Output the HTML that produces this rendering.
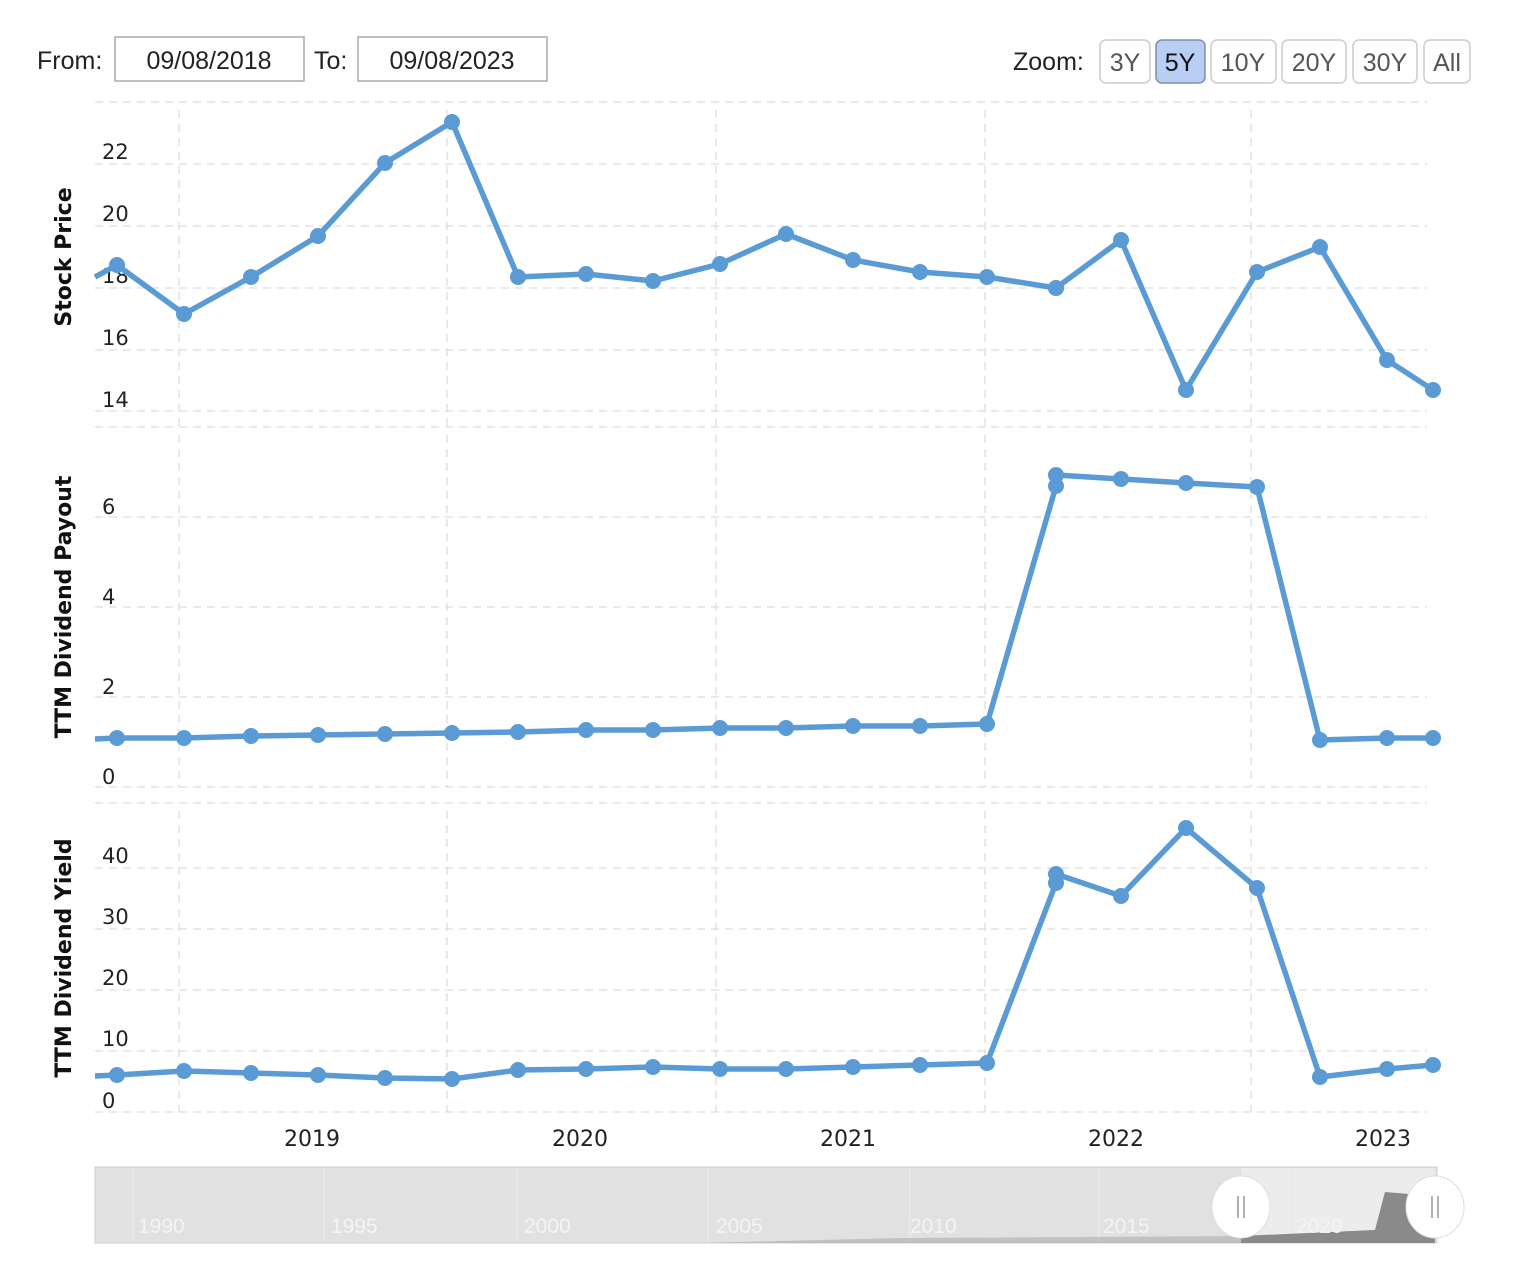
<!DOCTYPE html>
<html><head><meta charset="utf-8"><style>
html,body{margin:0;padding:0;background:#fff;width:1536px;height:1276px;overflow:hidden}
svg{display:block}
text{font-family:"DejaVu Sans","Liberation Sans",sans-serif}
text.ui{font-family:"Liberation Sans",sans-serif}
</style></head><body>
<svg id="s" width="1536" height="1276" xmlns="http://www.w3.org/2000/svg">
<text class="ui" x="37" y="69" font-size="25" fill="#222">From:</text>
<rect x="115" y="37" width="189" height="44" fill="#fff" stroke="#aaa" stroke-width="1.5"/>
<text class="ui" x="209" y="69" font-size="25" fill="#222" text-anchor="middle">09/08/2018</text>
<text class="ui" x="314" y="69" font-size="25" fill="#222">To:</text>
<rect x="358" y="37" width="189" height="44" fill="#fff" stroke="#aaa" stroke-width="1.5"/>
<text class="ui" x="452" y="69" font-size="25" fill="#222" text-anchor="middle">09/08/2023</text>
<text class="ui" x="1013" y="70" font-size="25" fill="#222">Zoom:</text>
<g font-size="25" text-anchor="middle">
<rect x="1100" y="40" width="50" height="43" rx="6" fill="#fff" stroke="#ccc" stroke-width="1.5"/><text class="ui" x="1125" y="71" fill="#555">3Y</text>
<rect x="1156" y="40" width="49" height="43" rx="6" fill="#b8cef3" stroke="#7f8fa8" stroke-width="1.5"/><text class="ui" x="1180" y="71" fill="#111">5Y</text>
<rect x="1211" y="40" width="65" height="43" rx="6" fill="#fff" stroke="#ccc" stroke-width="1.5"/><text class="ui" x="1243" y="71" fill="#555">10Y</text>
<rect x="1282" y="40" width="64" height="43" rx="6" fill="#fff" stroke="#ccc" stroke-width="1.5"/><text class="ui" x="1314" y="71" fill="#555">20Y</text>
<rect x="1353" y="40" width="64" height="43" rx="6" fill="#fff" stroke="#ccc" stroke-width="1.5"/><text class="ui" x="1385" y="71" fill="#555">30Y</text>
<rect x="1424" y="40" width="46" height="43" rx="6" fill="#fff" stroke="#ccc" stroke-width="1.5"/><text class="ui" x="1447" y="71" fill="#555">All</text>
</g>
<g id="grid" stroke="#ddd" stroke-width="1.3" stroke-dasharray="8,6" fill="none"></g>
<g font-size="21" fill="#222">
<text x="102" y="159">22</text><text x="102" y="221">20</text><text x="102" y="283">18</text><text x="102" y="345">16</text><text x="102" y="407">14</text>
<text x="102" y="514">6</text><text x="102" y="604">4</text><text x="102" y="694">2</text><text x="102" y="784">0</text>
<text x="102" y="863">40</text><text x="102" y="924">30</text><text x="102" y="985">20</text><text x="102" y="1046">10</text><text x="102" y="1108">0</text>
</g>
<g font-size="22" font-weight="bold" fill="#111" text-anchor="middle">
<text transform="translate(71,257) rotate(-90)">Stock Price</text>
<text transform="translate(71,607) rotate(-90)">TTM Dividend Payout</text>
<text transform="translate(71,958) rotate(-90)">TTM Dividend Yield</text>
</g>
<g font-size="22" fill="#222" text-anchor="middle">
<text x="312" y="1146">2019</text><text x="580" y="1146">2020</text><text x="848" y="1146">2021</text><text x="1116" y="1146">2022</text><text x="1383" y="1146">2023</text>
</g>
<g id="series"></g>
<rect x="95" y="1167" width="1342" height="76" fill="#e1e1e1" stroke="#d0d0d0"/>
<rect x="1241" y="1168" width="194" height="74" fill="#ececec"/>
<g stroke="#e9e9e9" stroke-width="1.5"><line x1="133" y1="1168" x2="133" y2="1242"/><line x1="324" y1="1168" x2="324" y2="1242"/><line x1="517" y1="1168" x2="517" y2="1242"/><line x1="708" y1="1168" x2="708" y2="1242"/><line x1="910" y1="1168" x2="910" y2="1242"/><line x1="1099" y1="1168" x2="1099" y2="1242"/><line x1="1292" y1="1168" x2="1292" y2="1242"/></g>
<polygon points="700,1243 900,1238 1241,1236 1375,1230 1385,1192 1420,1195 1435,1200 1435,1243" fill="#8a8a8a" opacity="0.35"/>
<polygon points="1241,1236 1375,1230 1385,1192 1420,1195 1435,1200 1435,1243 1241,1243" fill="#8a8a8a"/>
<g font-size="21" fill="#f4f4f4">
<text class="ui" x="138" y="1233">1990</text><text class="ui" x="331" y="1233">1995</text><text class="ui" x="524" y="1233">2000</text><text class="ui" x="716" y="1233">2005</text><text class="ui" x="910" y="1233">2010</text><text class="ui" x="1103" y="1233">2015</text><text class="ui" x="1296" y="1233">2020</text>
</g>
<ellipse cx="1241" cy="1207" rx="29" ry="31" fill="#fff" stroke="#ddd"/>
<ellipse cx="1435" cy="1207" rx="29" ry="31" fill="#fff" stroke="#ddd"/>
<g stroke="#999" stroke-width="1.5"><line x1="1238" y1="1196" x2="1238" y2="1218"/><line x1="1244" y1="1196" x2="1244" y2="1218"/><line x1="1432" y1="1196" x2="1432" y2="1218"/><line x1="1438" y1="1196" x2="1438" y2="1218"/></g>
</svg>
<script>
var NS="http://www.w3.org/2000/svg";
function el(p,t,a){var e=document.createElementNS(NS,t);for(var k in a)e.setAttribute(k,a[k]);p.appendChild(e);return e;}
var g=document.getElementById("grid");
[102,164,226,288,350,411,427,517,607,697,787,803,868,929,990,1051,1112].forEach(function(y){el(g,"line",{x1:95,x2:1427,y1:y,y2:y});});
[[102,427],[427,787],[803,1112]].forEach(function(r){[179,447,716,985,1251].forEach(function(x){el(g,"line",{x1:x,x2:x,y1:r[0]+8,y2:r[1]});});});
var xs=[117,184,251,318,385,452,518,586,653,720,786,853,920,987,1056,1056,1121,1186,1257,1320,1387,1433];
var P=[265,314,277,236,163,122,277,274,281,264,234,260,272,277,288,288,240,390,272,247,360,390];
var D=[738,738,736,735,734,733,732,730,730,728,728,726,726,724,486,475,479,483,487,740,738,738];
var Y=[1075,1071,1073,1075,1078,1079,1070,1069,1067,1069,1069,1067,1065,1063,883,874,896,828,888,1077,1069,1065];
var s=document.getElementById("series");
[[P,277],[D,739],[Y,1076]].forEach(function(a){
 var arr=a[0],pts="95,"+a[1];
 for(var i=0;i<xs.length;i++)pts+=" "+xs[i]+","+arr[i];
 el(s,"polyline",{points:pts,fill:"none",stroke:"#5b9bd5","stroke-width":5.5,"stroke-linejoin":"round"});
 for(var i=0;i<xs.length;i++)el(s,"circle",{cx:xs[i],cy:arr[i],r:8,fill:"#5b9bd5"});
});
</script>
</body></html>
